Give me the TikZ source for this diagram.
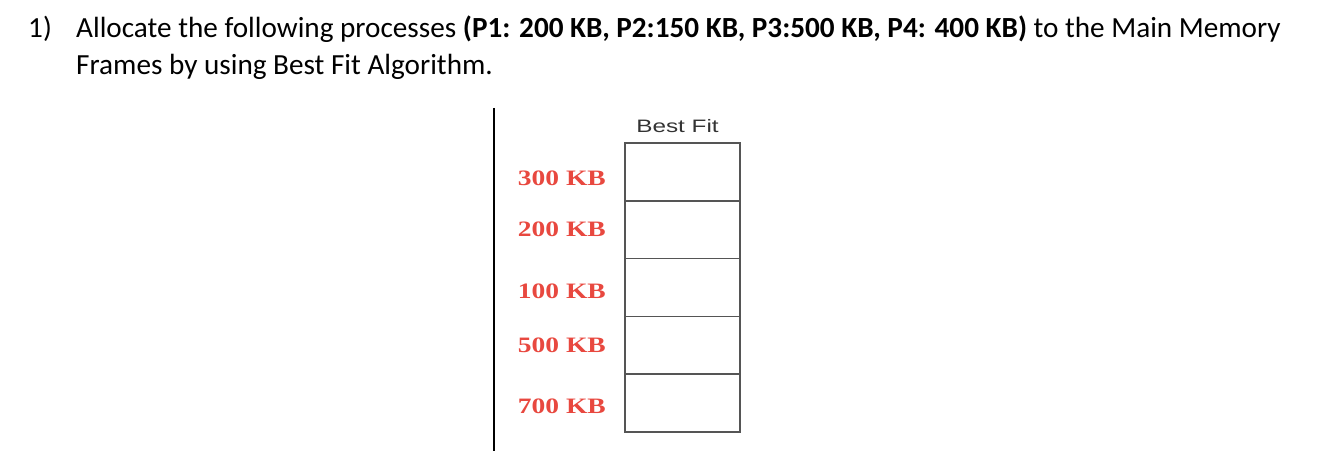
\documentclass[tikz,border=0pt]{standalone}
\usepackage{fontspec}
\usepackage{xcolor}
\usepackage{tikz}
\usetikzlibrary{positioning}
\setmainfont{Carlito}
\newfontfamily\kbfont[FakeStretch=1.25]{Liberation Serif}
\newfontfamily\fitfont[FakeStretch=1.35]{Liberation Sans}
\definecolor{kbred}{HTML}{E8483F}
\definecolor{framegray}{HTML}{555555}
\tikzset{
  qtext/.style = {anchor=base west, inner sep=0pt, font=\fontsize{29.2}{35}\selectfont},
  frame/.style = {rectangle, draw=framegray, line width=1.5pt, minimum width=115pt,
                  minimum height=57.8pt, inner sep=0pt},
  kb/.style = {anchor=base east, inner sep=0pt, text=kbred,
               font=\kbfont\bfseries\fontsize{22}{26}\selectfont}
}

\begin{document}
\begin{tikzpicture}[x=1pt, y=-1pt]
\useasboundingbox (0,0) rectangle (1332,454);
\node [qtext] (num) at (28, 38) {1)};
\node [qtext] (line1) at (76, 38) {Allocate the following processes \textbf{(P1: 200 KB, P2:150 KB, P3:500 KB, P4: 400 KB)} to the Main Memory};
\node [qtext] (line2) at (76, 75) {Frames by using Best Fit Algorithm.};
% memory frames
\coordinate (top) at (494, 108);
\coordinate (bottom) at (494, 451);
\draw [line width=2.5pt] (top) -- (bottom);
\node [anchor=base, inner sep=0pt, text=black!80, font=\fitfont\fontsize{18}{22}\selectfont] (title) at (677.5, 133) {Best Fit};
\foreach \i/\size/\base in {1/300/186, 2/200/236.5, 3/100/298, 4/500/352.5, 5/700/413} {
  \node [frame] (f\i) at (682.5, {143 + 28.9 + (\i-1)*57.8}) {};
  \node [kb] (kb\i) at (606, \base) {\size{} KB};
}
\end{tikzpicture}
\end{document}
